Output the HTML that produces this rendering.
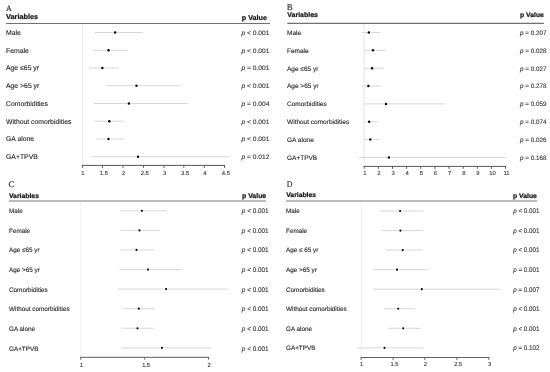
<!DOCTYPE html>
<html><head><meta charset="utf-8"><title>Forest plots</title>
<style>
html,body{margin:0;padding:0;background:#fff;}
body{width:550px;height:372px;overflow:hidden;}
svg{display:block;}
text{font-family:"Liberation Sans",Arial,sans-serif;text-rendering:geometricPrecision;}
.ltr{font-family:"Liberation Serif","Times New Roman",serif;fill:#333;stroke:#333;stroke-width:0.2px;}
.hd{font-weight:bold;fill:#151515;stroke:#151515;stroke-width:0.22px;}
.lb{fill:#222;stroke:#222;stroke-width:0.1px;}
.pv{fill:#333;stroke:#333;stroke-width:0.12px;}
.tk{fill:#333;stroke:#333;stroke-width:0.1px;}
</style></head>
<body>
<svg width="550" height="372" viewBox="0 0 550 372">
<rect width="550" height="372" fill="#fff"/>
<g>
<text class="ltr" x="6.0" y="10.7" font-size="8.1">A</text>
<text class="hd" x="6.0" y="18.9" font-size="7.15" textLength="32.1" lengthAdjust="spacingAndGlyphs">Variables</text>
<text class="hd" x="241.8" y="19.6" font-size="7.06" textLength="25.1" lengthAdjust="spacingAndGlyphs">p Value</text>
<line x1="82.4" y1="24.2" x2="82.4" y2="165.4" stroke="#e8e8e8" stroke-width="1"/>
<line x1="6.0" y1="23.45" x2="270.0" y2="23.45" stroke="#707070" stroke-width="1.15"/>
<text class="lb" x="6.0" y="35.00" font-size="6.85">Male</text>
<line x1="94.9" y1="32.50" x2="142.7" y2="32.50" stroke="#d2d2d2" stroke-width="0.9"/>
<circle cx="115.1" cy="32.50" r="2.15" fill="#fff"/>
<circle cx="115.1" cy="32.50" r="1.25" fill="#000"/>
<text class="pv" x="241.4" y="35.00" font-size="6.5" textLength="28.0" lengthAdjust="spacingAndGlyphs"><tspan font-style="italic">p</tspan> &lt; 0.001</text>
<text class="lb" x="6.0" y="52.74" font-size="6.85">Female</text>
<line x1="92.4" y1="50.24" x2="128.2" y2="50.24" stroke="#d2d2d2" stroke-width="0.9"/>
<circle cx="108.5" cy="50.24" r="2.15" fill="#fff"/>
<circle cx="108.5" cy="50.24" r="1.25" fill="#000"/>
<text class="pv" x="241.4" y="52.74" font-size="6.5" textLength="28.0" lengthAdjust="spacingAndGlyphs"><tspan font-style="italic">p</tspan> &lt; 0.001</text>
<text class="lb" x="6.0" y="70.48" font-size="6.85">Age ≤65 yr</text>
<line x1="89.1" y1="67.98" x2="118.7" y2="67.98" stroke="#d2d2d2" stroke-width="0.9"/>
<circle cx="102.4" cy="67.98" r="2.15" fill="#fff"/>
<circle cx="102.4" cy="67.98" r="1.25" fill="#000"/>
<text class="pv" x="241.4" y="70.48" font-size="6.5" textLength="28.0" lengthAdjust="spacingAndGlyphs"><tspan font-style="italic">p</tspan> = 0.001</text>
<text class="lb" x="6.0" y="88.22" font-size="6.85">Age &gt;65 yr</text>
<line x1="106" y1="85.72" x2="180.4" y2="85.72" stroke="#d2d2d2" stroke-width="0.9"/>
<circle cx="136.5" cy="85.72" r="2.15" fill="#fff"/>
<circle cx="136.5" cy="85.72" r="1.25" fill="#000"/>
<text class="pv" x="241.4" y="88.22" font-size="6.5" textLength="28.0" lengthAdjust="spacingAndGlyphs"><tspan font-style="italic">p</tspan> &lt; 0.001</text>
<text class="lb" x="6.0" y="105.96" font-size="6.85">Comorbidities</text>
<line x1="94" y1="103.46" x2="187.8" y2="103.46" stroke="#d2d2d2" stroke-width="0.9"/>
<circle cx="128.9" cy="103.46" r="2.15" fill="#fff"/>
<circle cx="128.9" cy="103.46" r="1.25" fill="#000"/>
<text class="pv" x="241.4" y="105.96" font-size="6.5" textLength="28.0" lengthAdjust="spacingAndGlyphs"><tspan font-style="italic">p</tspan> = 0.004</text>
<text class="lb" x="6.0" y="123.70" font-size="6.85">Without comorbidities</text>
<line x1="94.5" y1="121.20" x2="124" y2="121.20" stroke="#d2d2d2" stroke-width="0.9"/>
<circle cx="109.3" cy="121.20" r="2.15" fill="#fff"/>
<circle cx="109.3" cy="121.20" r="1.25" fill="#000"/>
<text class="pv" x="241.4" y="123.70" font-size="6.5" textLength="28.0" lengthAdjust="spacingAndGlyphs"><tspan font-style="italic">p</tspan> &lt; 0.001</text>
<text class="lb" x="6.0" y="141.44" font-size="6.85">GA alone</text>
<line x1="96" y1="138.94" x2="124.2" y2="138.94" stroke="#d2d2d2" stroke-width="0.9"/>
<circle cx="108.5" cy="138.94" r="2.15" fill="#fff"/>
<circle cx="108.5" cy="138.94" r="1.25" fill="#000"/>
<text class="pv" x="241.4" y="141.44" font-size="6.5" textLength="28.0" lengthAdjust="spacingAndGlyphs"><tspan font-style="italic">p</tspan> &lt; 0.001</text>
<text class="lb" x="6.0" y="159.18" font-size="6.85">GA+TPVB</text>
<line x1="90.9" y1="156.68" x2="230" y2="156.68" stroke="#d2d2d2" stroke-width="0.9"/>
<circle cx="138" cy="156.68" r="2.15" fill="#fff"/>
<circle cx="138" cy="156.68" r="1.25" fill="#000"/>
<text class="pv" x="241.4" y="159.18" font-size="6.5" textLength="28.0" lengthAdjust="spacingAndGlyphs"><tspan font-style="italic">p</tspan> = 0.012</text>
<line x1="81.9" y1="165.4" x2="225.0" y2="165.4" stroke="#555" stroke-width="1"/>
<line x1="82.4" y1="165.4" x2="82.4" y2="167.8" stroke="#555" stroke-width="1"/>
<text class="tk" x="83.00" y="174.6" font-size="5.9" text-anchor="middle">1</text>
<line x1="102.5" y1="165.4" x2="102.5" y2="167.8" stroke="#555" stroke-width="1"/>
<text class="tk" x="103.90" y="174.6" font-size="5.9" text-anchor="middle">1.5</text>
<line x1="123.0" y1="165.4" x2="123.0" y2="167.8" stroke="#555" stroke-width="1"/>
<text class="tk" x="123.60" y="174.6" font-size="5.9" text-anchor="middle">2</text>
<line x1="143.4" y1="165.4" x2="143.4" y2="167.8" stroke="#555" stroke-width="1"/>
<text class="tk" x="144.80" y="174.6" font-size="5.9" text-anchor="middle">2.5</text>
<line x1="164.0" y1="165.4" x2="164.0" y2="167.8" stroke="#555" stroke-width="1"/>
<text class="tk" x="164.60" y="174.6" font-size="5.9" text-anchor="middle">3</text>
<line x1="183.8" y1="165.4" x2="183.8" y2="167.8" stroke="#555" stroke-width="1"/>
<text class="tk" x="185.20" y="174.6" font-size="5.9" text-anchor="middle">3.5</text>
<line x1="204.3" y1="165.4" x2="204.3" y2="167.8" stroke="#555" stroke-width="1"/>
<text class="tk" x="204.90" y="174.6" font-size="5.9" text-anchor="middle">4</text>
<line x1="224.5" y1="165.4" x2="224.5" y2="167.8" stroke="#555" stroke-width="1"/>
<text class="tk" x="225.90" y="174.6" font-size="5.9" text-anchor="middle">4.5</text>
</g>
<g>
<text class="ltr" x="286.8" y="9.7" font-size="8.8">B</text>
<text class="hd" x="287.3" y="17.1" font-size="6.8" textLength="30.6" lengthAdjust="spacingAndGlyphs">Variables</text>
<text class="hd" x="520.1" y="17.4" font-size="6.66" textLength="23.7" lengthAdjust="spacingAndGlyphs">p Value</text>
<line x1="364.2" y1="24.0" x2="364.2" y2="166.4" stroke="#e6e6e6" stroke-width="1"/>
<line x1="287.3" y1="23.4" x2="544.1" y2="23.4" stroke="#707070" stroke-width="1.15"/>
<text class="lb" x="287.0" y="34.80" font-size="6.5">Male</text>
<line x1="361.8" y1="32.50" x2="380.1" y2="32.50" stroke="#d2d2d2" stroke-width="0.9"/>
<circle cx="368.8" cy="32.50" r="2.15" fill="#fff"/>
<circle cx="368.8" cy="32.50" r="1.25" fill="#000"/>
<text class="pv" x="520.1" y="34.80" font-size="6.5" textLength="26.3" lengthAdjust="spacingAndGlyphs"><tspan font-style="italic">p</tspan> = 0.207</text>
<text class="lb" x="287.0" y="52.65" font-size="6.5">Female</text>
<line x1="363.9" y1="50.35" x2="385.8" y2="50.35" stroke="#d2d2d2" stroke-width="0.9"/>
<circle cx="373" cy="50.35" r="2.15" fill="#fff"/>
<circle cx="373" cy="50.35" r="1.25" fill="#000"/>
<text class="pv" x="520.1" y="52.65" font-size="6.5" textLength="26.3" lengthAdjust="spacingAndGlyphs"><tspan font-style="italic">p</tspan> = 0.028</text>
<text class="lb" x="287.0" y="70.50" font-size="6.5">Age ≤65 yr</text>
<line x1="364.3" y1="68.20" x2="383.9" y2="68.20" stroke="#d2d2d2" stroke-width="0.9"/>
<circle cx="372.1" cy="68.20" r="2.15" fill="#fff"/>
<circle cx="372.1" cy="68.20" r="1.25" fill="#000"/>
<text class="pv" x="520.1" y="70.50" font-size="6.5" textLength="26.3" lengthAdjust="spacingAndGlyphs"><tspan font-style="italic">p</tspan> = 0.027</text>
<text class="lb" x="287.0" y="88.35" font-size="6.5">Age &gt;65 yr</text>
<line x1="361.3" y1="86.05" x2="381.2" y2="86.05" stroke="#d2d2d2" stroke-width="0.9"/>
<circle cx="368.4" cy="86.05" r="2.15" fill="#fff"/>
<circle cx="368.4" cy="86.05" r="1.25" fill="#000"/>
<text class="pv" x="520.1" y="88.35" font-size="6.5" textLength="26.3" lengthAdjust="spacingAndGlyphs"><tspan font-style="italic">p</tspan> = 0.278</text>
<text class="lb" x="287.0" y="106.20" font-size="6.5">Comorbidities</text>
<line x1="363.7" y1="103.90" x2="444.8" y2="103.90" stroke="#d2d2d2" stroke-width="0.9"/>
<circle cx="386" cy="103.90" r="2.15" fill="#fff"/>
<circle cx="386" cy="103.90" r="1.25" fill="#000"/>
<text class="pv" x="520.1" y="106.20" font-size="6.5" textLength="26.3" lengthAdjust="spacingAndGlyphs"><tspan font-style="italic">p</tspan> = 0.059</text>
<text class="lb" x="287.0" y="124.05" font-size="6.5">Without comorbidities</text>
<line x1="364.3" y1="121.75" x2="377.4" y2="121.75" stroke="#d2d2d2" stroke-width="0.9"/>
<circle cx="369.2" cy="121.75" r="2.15" fill="#fff"/>
<circle cx="369.2" cy="121.75" r="1.25" fill="#000"/>
<text class="pv" x="520.1" y="124.05" font-size="6.5" textLength="26.3" lengthAdjust="spacingAndGlyphs"><tspan font-style="italic">p</tspan> = 0.074</text>
<text class="lb" x="287.0" y="141.90" font-size="6.5">GA alone</text>
<line x1="364.2" y1="139.60" x2="379.3" y2="139.60" stroke="#d2d2d2" stroke-width="0.9"/>
<circle cx="370.3" cy="139.60" r="2.15" fill="#fff"/>
<circle cx="370.3" cy="139.60" r="1.25" fill="#000"/>
<text class="pv" x="520.1" y="141.90" font-size="6.5" textLength="26.3" lengthAdjust="spacingAndGlyphs"><tspan font-style="italic">p</tspan> = 0.026</text>
<text class="lb" x="287.0" y="159.75" font-size="6.5">GA+TPVB</text>
<line x1="359.1" y1="157.45" x2="506.3" y2="157.45" stroke="#d2d2d2" stroke-width="0.9"/>
<circle cx="388.9" cy="157.45" r="2.15" fill="#fff"/>
<circle cx="388.9" cy="157.45" r="1.25" fill="#000"/>
<text class="pv" x="520.1" y="159.75" font-size="6.5" textLength="26.3" lengthAdjust="spacingAndGlyphs"><tspan font-style="italic">p</tspan> = 0.168</text>
<line x1="363.7" y1="166.4" x2="506.1" y2="166.4" stroke="#555" stroke-width="1"/>
<line x1="364.2" y1="166.4" x2="364.2" y2="168.8" stroke="#555" stroke-width="1"/>
<text class="tk" x="364.80" y="175.4" font-size="5.9" text-anchor="middle">1</text>
<line x1="378.34" y1="166.4" x2="378.34" y2="168.8" stroke="#555" stroke-width="1"/>
<text class="tk" x="378.94" y="175.4" font-size="5.9" text-anchor="middle">2</text>
<line x1="392.48" y1="166.4" x2="392.48" y2="168.8" stroke="#555" stroke-width="1"/>
<text class="tk" x="393.08" y="175.4" font-size="5.9" text-anchor="middle">3</text>
<line x1="406.62" y1="166.4" x2="406.62" y2="168.8" stroke="#555" stroke-width="1"/>
<text class="tk" x="407.22" y="175.4" font-size="5.9" text-anchor="middle">4</text>
<line x1="420.76" y1="166.4" x2="420.76" y2="168.8" stroke="#555" stroke-width="1"/>
<text class="tk" x="421.36" y="175.4" font-size="5.9" text-anchor="middle">5</text>
<line x1="434.9" y1="166.4" x2="434.9" y2="168.8" stroke="#555" stroke-width="1"/>
<text class="tk" x="435.50" y="175.4" font-size="5.9" text-anchor="middle">6</text>
<line x1="449.03999999999996" y1="166.4" x2="449.03999999999996" y2="168.8" stroke="#555" stroke-width="1"/>
<text class="tk" x="449.64" y="175.4" font-size="5.9" text-anchor="middle">7</text>
<line x1="463.18" y1="166.4" x2="463.18" y2="168.8" stroke="#555" stroke-width="1"/>
<text class="tk" x="463.78" y="175.4" font-size="5.9" text-anchor="middle">8</text>
<line x1="477.32" y1="166.4" x2="477.32" y2="168.8" stroke="#555" stroke-width="1"/>
<text class="tk" x="477.92" y="175.4" font-size="5.9" text-anchor="middle">9</text>
<line x1="491.46" y1="166.4" x2="491.46" y2="168.8" stroke="#555" stroke-width="1"/>
<text class="tk" x="492.46" y="175.4" font-size="5.9" text-anchor="middle">10</text>
<line x1="505.6" y1="166.4" x2="505.6" y2="168.8" stroke="#555" stroke-width="1"/>
<text class="tk" x="506.60" y="175.4" font-size="5.9" text-anchor="middle">11</text>
</g>
<g>
<text class="ltr" x="8.6" y="186.9" font-size="8.4">C</text>
<text class="hd" x="8.9" y="197.7" font-size="6.7" textLength="30.1" lengthAdjust="spacingAndGlyphs">Variables</text>
<text class="hd" x="242.0" y="197.9" font-size="6.8" textLength="24.2" lengthAdjust="spacingAndGlyphs">p Value</text>
<line x1="80.7" y1="201.8" x2="80.7" y2="357.3" stroke="#efefef" stroke-width="1"/>
<line x1="8.9" y1="201.0" x2="266.0" y2="201.0" stroke="#a6a6a6" stroke-width="1.5"/>
<text class="lb" x="9.0" y="213.00" font-size="6.35">Male</text>
<line x1="120.1" y1="210.80" x2="167" y2="210.80" stroke="#d2d2d2" stroke-width="0.9"/>
<circle cx="141.9" cy="210.80" r="2.0" fill="#fff"/>
<circle cx="141.9" cy="210.80" r="1.1" fill="#000"/>
<text class="pv" x="241.8" y="213.00" font-size="6.7" textLength="26.8" lengthAdjust="spacingAndGlyphs"><tspan font-style="italic">p</tspan> &lt; 0.001</text>
<text class="lb" x="9.0" y="232.65" font-size="6.35">Female</text>
<line x1="120.6" y1="230.38" x2="159.9" y2="230.38" stroke="#d2d2d2" stroke-width="0.9"/>
<circle cx="139.5" cy="230.38" r="2.0" fill="#fff"/>
<circle cx="139.5" cy="230.38" r="1.1" fill="#000"/>
<text class="pv" x="241.8" y="232.65" font-size="6.7" textLength="26.8" lengthAdjust="spacingAndGlyphs"><tspan font-style="italic">p</tspan> &lt; 0.001</text>
<text class="lb" x="9.0" y="252.30" font-size="6.35">Age ≤65 yr</text>
<line x1="120.6" y1="249.96" x2="154.2" y2="249.96" stroke="#d2d2d2" stroke-width="0.9"/>
<circle cx="136.5" cy="249.96" r="2.0" fill="#fff"/>
<circle cx="136.5" cy="249.96" r="1.1" fill="#000"/>
<text class="pv" x="241.8" y="252.30" font-size="6.7" textLength="26.8" lengthAdjust="spacingAndGlyphs"><tspan font-style="italic">p</tspan> &lt; 0.001</text>
<text class="lb" x="9.0" y="271.95" font-size="6.35">Age &gt;65 yr</text>
<line x1="119.5" y1="269.54" x2="182" y2="269.54" stroke="#d2d2d2" stroke-width="0.9"/>
<circle cx="148.1" cy="269.54" r="2.0" fill="#fff"/>
<circle cx="148.1" cy="269.54" r="1.1" fill="#000"/>
<text class="pv" x="241.8" y="271.95" font-size="6.7" textLength="26.8" lengthAdjust="spacingAndGlyphs"><tspan font-style="italic">p</tspan> &lt; 0.001</text>
<text class="lb" x="9.0" y="291.60" font-size="6.35">Comorbidities</text>
<line x1="117.6" y1="289.12" x2="228.6" y2="289.12" stroke="#d2d2d2" stroke-width="0.9"/>
<circle cx="166.1" cy="289.12" r="2.0" fill="#fff"/>
<circle cx="166.1" cy="289.12" r="1.1" fill="#000"/>
<text class="pv" x="241.8" y="291.60" font-size="6.7" textLength="26.8" lengthAdjust="spacingAndGlyphs"><tspan font-style="italic">p</tspan> &lt; 0.001</text>
<text class="lb" x="9.0" y="311.25" font-size="6.35">Without comorbidities</text>
<line x1="124.2" y1="308.70" x2="155.2" y2="308.70" stroke="#d2d2d2" stroke-width="0.9"/>
<circle cx="138.8" cy="308.70" r="2.0" fill="#fff"/>
<circle cx="138.8" cy="308.70" r="1.1" fill="#000"/>
<text class="pv" x="241.8" y="311.25" font-size="6.7" textLength="26.8" lengthAdjust="spacingAndGlyphs"><tspan font-style="italic">p</tspan> &lt; 0.001</text>
<text class="lb" x="9.0" y="330.90" font-size="6.35">GA alone</text>
<line x1="121.5" y1="328.28" x2="153.9" y2="328.28" stroke="#d2d2d2" stroke-width="0.9"/>
<circle cx="137.5" cy="328.28" r="2.0" fill="#fff"/>
<circle cx="137.5" cy="328.28" r="1.1" fill="#000"/>
<text class="pv" x="241.8" y="330.90" font-size="6.7" textLength="26.8" lengthAdjust="spacingAndGlyphs"><tspan font-style="italic">p</tspan> &lt; 0.001</text>
<text class="lb" x="9.0" y="350.55" font-size="6.35">GA+TPVB</text>
<line x1="121.5" y1="347.86" x2="211.3" y2="347.86" stroke="#d2d2d2" stroke-width="0.9"/>
<circle cx="161.9" cy="347.86" r="2.0" fill="#fff"/>
<circle cx="161.9" cy="347.86" r="1.1" fill="#000"/>
<text class="pv" x="241.8" y="350.55" font-size="6.7" textLength="26.8" lengthAdjust="spacingAndGlyphs"><tspan font-style="italic">p</tspan> &lt; 0.001</text>
<line x1="80.2" y1="357.3" x2="209.1" y2="357.3" stroke="#606060" stroke-width="1"/>
<line x1="80.7" y1="357.3" x2="80.7" y2="359.7" stroke="#606060" stroke-width="1"/>
<text class="tk" x="81.30" y="366.5" font-size="5.7" text-anchor="middle">1</text>
<line x1="144.7" y1="357.3" x2="144.7" y2="359.7" stroke="#606060" stroke-width="1"/>
<text class="tk" x="146.10" y="366.5" font-size="5.7" text-anchor="middle">1.5</text>
<line x1="208.6" y1="357.3" x2="208.6" y2="359.7" stroke="#606060" stroke-width="1"/>
<text class="tk" x="209.20" y="366.5" font-size="5.7" text-anchor="middle">2</text>
</g>
<g>
<text class="ltr" x="286.7" y="186.9" font-size="8.8" textLength="5.7" lengthAdjust="spacingAndGlyphs">D</text>
<text class="hd" x="286.2" y="197.1" font-size="6.7" textLength="29.9" lengthAdjust="spacingAndGlyphs">Variables</text>
<text class="hd" x="513.0" y="197.7" font-size="6.7" textLength="23.9" lengthAdjust="spacingAndGlyphs">p Value</text>
<line x1="361.2" y1="201.8" x2="361.2" y2="357.5" stroke="#efefef" stroke-width="1"/>
<line x1="286.0" y1="201.0" x2="537.2" y2="201.0" stroke="#a6a6a6" stroke-width="1.5"/>
<text class="lb" x="286.0" y="213.40" font-size="6.35">Male</text>
<line x1="379.6" y1="211.00" x2="423.8" y2="211.00" stroke="#d2d2d2" stroke-width="0.9"/>
<circle cx="400.1" cy="211.00" r="2.0" fill="#fff"/>
<circle cx="400.1" cy="211.00" r="1.1" fill="#000"/>
<text class="pv" x="513.2" y="213.40" font-size="6.7" textLength="26.2" lengthAdjust="spacingAndGlyphs"><tspan font-style="italic">p</tspan> &lt; 0.001</text>
<text class="lb" x="286.0" y="232.93" font-size="6.35">Female</text>
<line x1="381.3" y1="230.55" x2="422.7" y2="230.55" stroke="#d2d2d2" stroke-width="0.9"/>
<circle cx="400.4" cy="230.55" r="2.0" fill="#fff"/>
<circle cx="400.4" cy="230.55" r="1.1" fill="#000"/>
<text class="pv" x="513.2" y="232.93" font-size="6.7" textLength="26.2" lengthAdjust="spacingAndGlyphs"><tspan font-style="italic">p</tspan> &lt; 0.001</text>
<text class="lb" x="286.0" y="252.46" font-size="6.35">Age ≤ 65 yr</text>
<line x1="385.4" y1="250.10" x2="422.2" y2="250.10" stroke="#d2d2d2" stroke-width="0.9"/>
<circle cx="402.7" cy="250.10" r="2.0" fill="#fff"/>
<circle cx="402.7" cy="250.10" r="1.1" fill="#000"/>
<text class="pv" x="513.2" y="252.46" font-size="6.7" textLength="26.2" lengthAdjust="spacingAndGlyphs"><tspan font-style="italic">p</tspan> &lt; 0.001</text>
<text class="lb" x="286.0" y="271.99" font-size="6.35">Age &gt;65 yr</text>
<line x1="373.1" y1="269.65" x2="427.9" y2="269.65" stroke="#d2d2d2" stroke-width="0.9"/>
<circle cx="397" cy="269.65" r="2.0" fill="#fff"/>
<circle cx="397" cy="269.65" r="1.1" fill="#000"/>
<text class="pv" x="513.2" y="271.99" font-size="6.7" textLength="26.2" lengthAdjust="spacingAndGlyphs"><tspan font-style="italic">p</tspan> = 0.001</text>
<text class="lb" x="286.0" y="291.52" font-size="6.35">Comorbidities</text>
<line x1="373.3" y1="289.20" x2="499.8" y2="289.20" stroke="#d2d2d2" stroke-width="0.9"/>
<circle cx="421.8" cy="289.20" r="2.0" fill="#fff"/>
<circle cx="421.8" cy="289.20" r="1.1" fill="#000"/>
<text class="pv" x="513.2" y="291.52" font-size="6.7" textLength="26.2" lengthAdjust="spacingAndGlyphs"><tspan font-style="italic">p</tspan> = 0.007</text>
<text class="lb" x="286.0" y="311.05" font-size="6.35">Without comorbidities</text>
<line x1="384" y1="308.75" x2="415" y2="308.75" stroke="#d2d2d2" stroke-width="0.9"/>
<circle cx="398.2" cy="308.75" r="2.0" fill="#fff"/>
<circle cx="398.2" cy="308.75" r="1.1" fill="#000"/>
<text class="pv" x="513.2" y="311.05" font-size="6.7" textLength="26.2" lengthAdjust="spacingAndGlyphs"><tspan font-style="italic">p</tspan> &lt; 0.001</text>
<text class="lb" x="286.0" y="330.58" font-size="6.35">GA alone</text>
<line x1="387.8" y1="328.30" x2="421" y2="328.30" stroke="#d2d2d2" stroke-width="0.9"/>
<circle cx="403.2" cy="328.30" r="2.0" fill="#fff"/>
<circle cx="403.2" cy="328.30" r="1.1" fill="#000"/>
<text class="pv" x="513.2" y="330.58" font-size="6.7" textLength="26.2" lengthAdjust="spacingAndGlyphs"><tspan font-style="italic">p</tspan> &lt; 0.001</text>
<text class="lb" x="286.0" y="350.11" font-size="6.35">GA+TPVB</text>
<line x1="357.2" y1="347.85" x2="423.7" y2="347.85" stroke="#d2d2d2" stroke-width="0.9"/>
<circle cx="384.5" cy="347.85" r="2.0" fill="#fff"/>
<circle cx="384.5" cy="347.85" r="1.1" fill="#000"/>
<text class="pv" x="513.2" y="350.11" font-size="6.7" textLength="26.2" lengthAdjust="spacingAndGlyphs"><tspan font-style="italic">p</tspan> = 0.102</text>
<line x1="360.6" y1="357.5" x2="489.4" y2="357.5" stroke="#606060" stroke-width="1"/>
<line x1="361.1" y1="357.5" x2="361.1" y2="359.9" stroke="#606060" stroke-width="1"/>
<text class="tk" x="361.70" y="366.3" font-size="5.8" text-anchor="middle">1</text>
<line x1="393.1" y1="357.5" x2="393.1" y2="359.9" stroke="#606060" stroke-width="1"/>
<text class="tk" x="394.50" y="366.3" font-size="5.8" text-anchor="middle">1.5</text>
<line x1="424.8" y1="357.5" x2="424.8" y2="359.9" stroke="#606060" stroke-width="1"/>
<text class="tk" x="425.40" y="366.3" font-size="5.8" text-anchor="middle">2</text>
<line x1="456.9" y1="357.5" x2="456.9" y2="359.9" stroke="#606060" stroke-width="1"/>
<text class="tk" x="458.30" y="366.3" font-size="5.8" text-anchor="middle">2.5</text>
<line x1="488.9" y1="357.5" x2="488.9" y2="359.9" stroke="#606060" stroke-width="1"/>
<text class="tk" x="489.50" y="366.3" font-size="5.8" text-anchor="middle">3</text>
</g>
</svg>
</body></html>
